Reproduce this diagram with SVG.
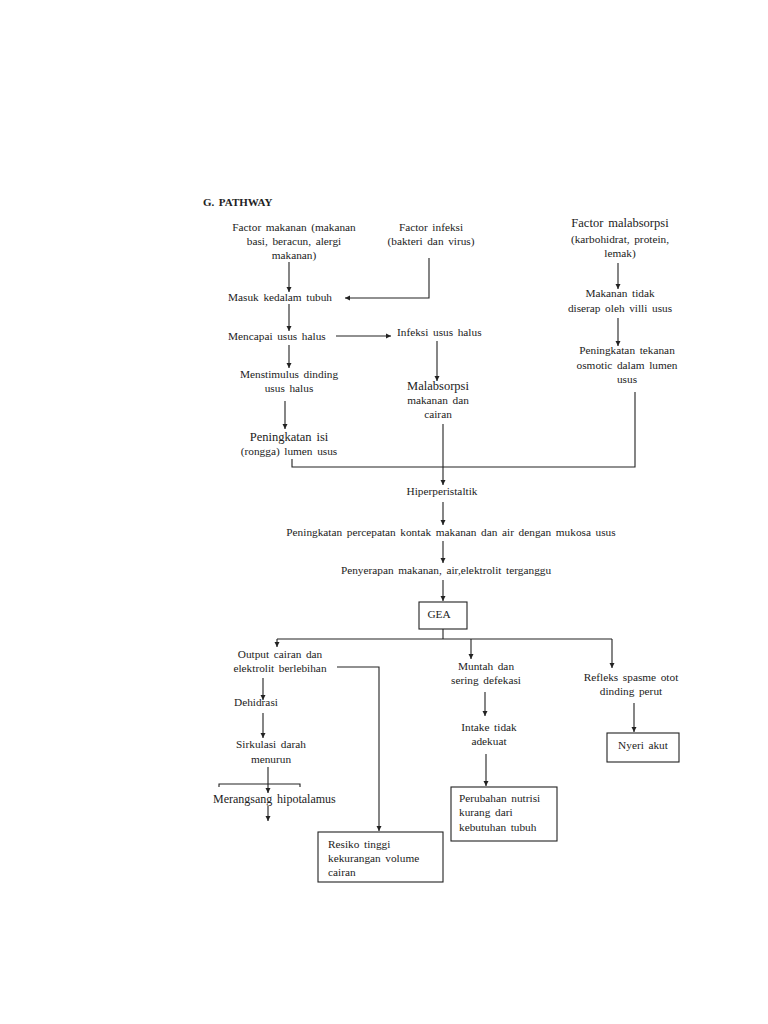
<svg xmlns="http://www.w3.org/2000/svg" width="768" height="1024" viewBox="0 0 768 1024">
<style>
text{font-family:"Liberation Serif",serif;font-size:11.3px;word-spacing:1.8px;fill:#222}
.c{text-anchor:middle}
.b{font-size:12.5px}
line,polyline,rect{stroke:#222;stroke-width:1.1;fill:none}
</style>
<defs><marker id="a" markerWidth="6" markerHeight="6" refX="5" refY="3" orient="auto" markerUnits="userSpaceOnUse"><path d="M0,0.5L5,3L0,5.5z" fill="#222"/></marker></defs>
<rect x="0" y="0" width="768" height="1024" style="fill:#fff;stroke:none"/>
<text x="203" y="206" style="font-weight:bold;font-size:11px">G.  PATHWAY</text>
<g id="n1"><text class="c" x="294" y="231">Factor makanan  (makanan</text><text class="c" x="294" y="245">basi, beracun, alergi</text><text class="c" x="294" y="259">makanan)</text></g>
<g id="n2"><text class="c" x="431" y="231">Factor infeksi</text><text class="c" x="431" y="245">(bakteri  dan virus)</text></g>
<g id="n3"><text class="c b" x="620" y="227">Factor malabsorpsi</text><text class="c" x="620" y="243">(karbohidrat,  protein,</text><text class="c" x="620" y="257">lemak)</text></g>
<g id="n4"><text x="228" y="301">Masuk  kedalam tubuh</text></g>
<g id="n5"><text x="228" y="340">Mencapai  usus  halus</text></g>
<g id="n6"><text x="397" y="336">Infeksi  usus  halus</text></g>
<g id="n7"><text class="c" x="289" y="378">Menstimulus  dinding</text><text class="c" x="289" y="392">usus halus</text></g>
<g id="n8"><text class="c b" x="289" y="441">Peningkatan  isi</text><text class="c" x="289" y="455">(rongga)  lumen  usus</text></g>
<g id="n9"><text class="c b" x="438" y="390">Malabsorpsi</text><text class="c" x="438" y="404">makanan  dan</text><text class="c" x="438" y="418">cairan</text></g>
<g id="n10"><text class="c" x="620" y="297">Makanan tidak</text><text class="c" x="620" y="312">diserap oleh villi  usus</text></g>
<g id="n11"><text class="c" x="627" y="354">Peningkatan  tekanan</text><text class="c" x="627" y="369">osmotic  dalam  lumen</text><text class="c" x="627" y="383">usus</text></g>
<g id="n12"><text class="c" x="442" y="495">Hiperperistaltik</text></g>
<g id="n13"><text class="c" x="451" y="536">Peningkatan  percepatan kontak  makanan  dan air dengan mukosa usus</text></g>
<g id="n14"><text class="c" x="446" y="574">Penyerapan  makanan,  air,elektrolit  terganggu</text></g>
<g id="n15"><rect x="419" y="602" width="48" height="27"/><text class="c" x="439" y="618">GEA</text></g>
<g id="n16"><text class="c" x="280" y="658">Output  cairan  dan</text><text class="c" x="280" y="672">elektrolit  berlebihan</text></g>
<g id="n17"><text x="234" y="706">Dehidrasi</text></g>
<g id="n18"><text class="c" x="271" y="748">Sirkulasi  darah</text><text class="c" x="271" y="763">menurun</text></g>
<g id="n19"><text x="213" y="803" style="font-size:12px">Merangsang  hipotalamus</text></g>
<g id="n20"><rect x="318" y="832" width="125" height="50"/><text x="328" y="848">Resiko  tinggi</text><text x="328" y="862">kekurangan  volume</text><text x="328" y="876">cairan</text></g>
<g id="n21"><text class="c" x="486" y="670">Muntah dan</text><text class="c" x="486" y="684">sering  defekasi</text></g>
<g id="n22"><text class="c" x="489" y="731">Intake tidak</text><text class="c" x="489" y="745">adekuat</text></g>
<g id="n23"><rect x="451" y="787" width="106" height="54"/><text x="459" y="802">Perubahan  nutrisi</text><text x="459" y="816">kurang dari</text><text x="459" y="831">kebutuhan  tubuh</text></g>
<g id="n24"><text class="c" x="631" y="681">Refleks  spasme  otot</text><text class="c" x="631" y="695">dinding  perut</text></g>
<g id="n25"><rect x="607" y="733" width="72" height="29"/><text class="c" x="643" y="749">Nyeri akut</text></g>
<g id="connectors">
<line x1="289" y1="262" x2="289" y2="292" marker-end="url(#a)"/>
<polyline points="429,258 429,298 345,298" marker-end="url(#a)"/>
<line x1="289" y1="304" x2="289" y2="331" marker-end="url(#a)"/>
<line x1="336" y1="336" x2="391" y2="336" marker-end="url(#a)"/>
<line x1="289" y1="345" x2="289" y2="368" marker-end="url(#a)"/>
<line x1="285" y1="401" x2="285" y2="429" marker-end="url(#a)"/>
<line x1="437" y1="341" x2="437" y2="381" marker-end="url(#a)"/>
<line x1="618" y1="263" x2="618" y2="289" marker-end="url(#a)"/>
<line x1="618" y1="318" x2="618" y2="346" marker-end="url(#a)"/>
<polyline points="292,459 292,467 635,467 635,392"/>
<line x1="443" y1="424" x2="443" y2="485" marker-end="url(#a)"/>
<line x1="443" y1="502" x2="443" y2="525" marker-end="url(#a)"/>
<line x1="443" y1="541" x2="443" y2="563" marker-end="url(#a)"/>
<line x1="443" y1="580" x2="443" y2="601" marker-end="url(#a)"/>
<line x1="443" y1="629" x2="443" y2="639"/>
<line x1="277" y1="639" x2="612" y2="639"/>
<line x1="277" y1="639" x2="277" y2="647" marker-end="url(#a)"/>
<line x1="471" y1="639" x2="471" y2="659" marker-end="url(#a)"/>
<line x1="612" y1="639" x2="612" y2="668" marker-end="url(#a)"/>
<polyline points="337,667 379,667 379,831" marker-end="url(#a)"/>
<line x1="263" y1="678" x2="263" y2="700" marker-end="url(#a)"/>
<line x1="263" y1="713" x2="263" y2="738" marker-end="url(#a)"/>
<polyline points="219,787 219,784 300,784 300,787"/>
<line x1="268" y1="767" x2="268" y2="793" marker-end="url(#a)"/>
<line x1="268" y1="806" x2="268" y2="821" marker-end="url(#a)"/>
<line x1="485" y1="692" x2="485" y2="716" marker-end="url(#a)"/>
<line x1="486" y1="754" x2="486" y2="786" marker-end="url(#a)"/>
<line x1="634" y1="703" x2="634" y2="732" marker-end="url(#a)"/>
</g>
</svg>
